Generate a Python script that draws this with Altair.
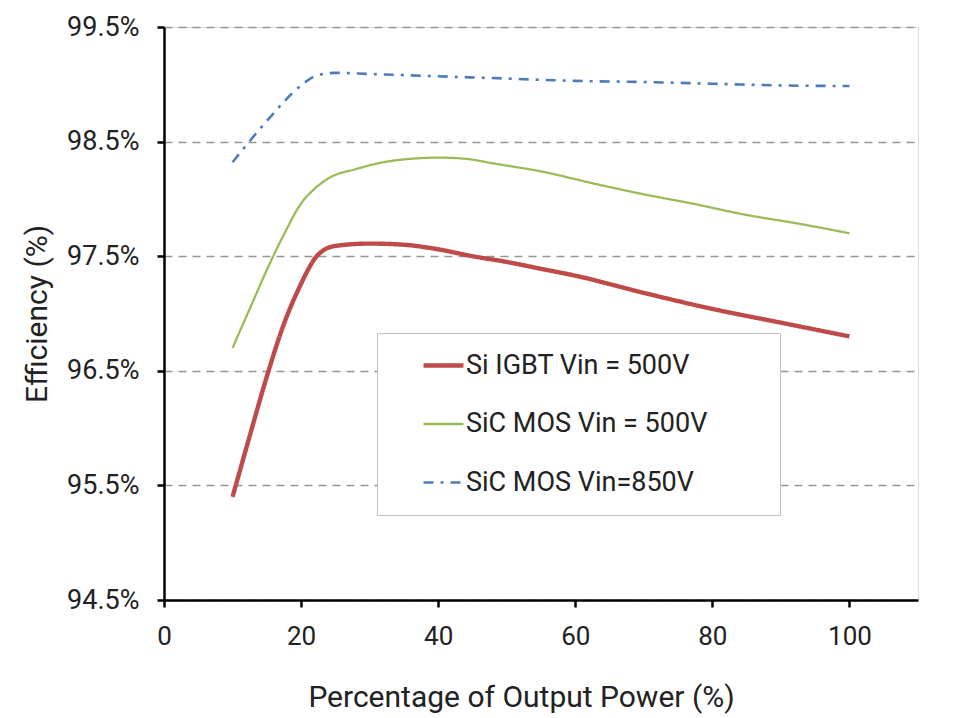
import altair as alt
import pandas as pd

series_names = ["Si IGBT Vin = 500V", "SiC MOS Vin = 500V", "SiC MOS Vin=850V"]

red_x = [10, 12.5, 15, 17.5, 20, 21, 22, 23, 25, 30, 35, 40, 45, 50, 55, 60, 70, 80, 90, 100]
red_y = [95.40, 95.93, 96.45, 96.91, 97.26, 97.38, 97.48, 97.54, 97.59, 97.61, 97.60, 97.56,
         97.50, 97.45, 97.39, 97.33, 97.18, 97.04, 96.92, 96.80]

green_x = [10, 12.5, 15, 17.5, 20, 22, 24, 28, 32, 36, 40, 44, 48, 55, 63, 70, 77, 85, 92, 100]
green_y = [96.70, 97.04, 97.38, 97.69, 97.96, 98.09, 98.18, 98.26, 98.32, 98.35, 98.36,
           98.35, 98.31, 98.24, 98.13, 98.04, 97.96, 97.86, 97.79, 97.70]

blue_x = [10, 15, 20, 22, 25, 30, 40, 50, 60, 70, 80, 90, 100]
blue_y = [98.32, 98.68, 98.99, 99.07, 99.10, 99.09, 99.07, 99.05, 99.03, 99.02, 99.005,
          98.99, 98.985]

y_ticks = [94.5, 95.5, 96.5, 97.5, 98.5, 99.5]
x_ticks = [0, 20, 40, 60, 80, 100]

colors = ["#BE4B48", "#9BBB59", "#4A7EBB"]
widths = [4.4, 2.3, 2.6]
dashes = [[1, 0], [1, 0], [10, 7, 3, 7]]

rows = []
for name, xs, ys, w in zip(series_names, [red_x, green_x, blue_x], [red_y, green_y, blue_y], widths):
    for xv, yv in zip(xs, ys):
        rows.append({"series": name, "power": xv, "eff": yv, "w": w})
df = pd.DataFrame(rows)

legend = alt.Legend(
    title="M",
    titleOrient="right",
    titleOpacity=0,
    titleFontSize=10,
    titlePadding=45,
    orient="none",
    legendX=213,
    legendY=306,
    fillColor="white",
    strokeColor="#c0c0c0",
    padding=19,
    symbolType="stroke",
    symbolSize=1600,
    symbolOffset=34,
    labelOffset=9,
    labelFont="Roboto",
    labelFontSize=27,
    labelColor="#222222",
    labelLimit=400,
    rowPadding=30.5,
    symbolStrokeWidth={"expr": "datum.value == 'Si IGBT Vin = 500V' ? 4.4 : 2.5"},
)

chart = alt.Chart(df).mark_line(interpolate="monotone", strokeCap="butt").encode(
    x=alt.X(
        "power:Q",
        scale=alt.Scale(domain=[0, 110], nice=False, zero=False),
        axis=alt.Axis(
            values=x_ticks,
            title="Percentage of Output Power (%)",
            grid=False,
            domainColor="black",
            domainWidth=2.5,
            tickColor="black",
            tickWidth=2.5,
            tickSize=7,
            labelFlush=False,
            labelFont="Roboto",
            labelFontSize=26,
            labelColor="#222222",
            labelPadding=16,
            titleFont="Roboto",
            titleFontSize=30,
            titleFontWeight="normal",
            titleColor="#222222",
            titlePadding=33,
            titleX=357,
        ),
    ),
    y=alt.Y(
        "eff:Q",
        scale=alt.Scale(domain=[94.5, 99.5], nice=False, zero=False),
        axis=alt.Axis(
            values=y_ticks,
            labelExpr="format(datum.value, '.1f') + '%'",
            title="Efficiency (%)",
            grid=True,
            gridDash=[8, 6],
            gridColor="#959595",
            gridWidth=1.3,
            domainColor="black",
            domainWidth=2.5,
            tickColor="black",
            tickWidth=2.5,
            tickSize=7,
            labelFlush=False,
            labelFont="Roboto",
            labelFontSize=27,
            labelColor="#222222",
            labelPadding=18,
            titleFont="Roboto",
            titleFontSize=30,
            titleFontWeight="normal",
            titleColor="#222222",
            titlePadding=14,
        ),
    ),
    color=alt.Color("series:N", scale=alt.Scale(domain=series_names, range=colors), legend=legend),
    strokeDash=alt.StrokeDash("series:N", scale=alt.Scale(domain=series_names, range=dashes), legend=legend),
    strokeWidth=alt.StrokeWidth("w:Q", scale=None, legend=None),
).properties(
    width=754,
    height=573,
    autosize=alt.AutoSizeParams(type="none"),
    padding={"left": 164, "top": 27, "right": 42, "bottom": 118},
).configure_view(stroke=None).configure(background="white")

chart.save("out.html", embed_options={"renderer": "svg", "actions": False})
